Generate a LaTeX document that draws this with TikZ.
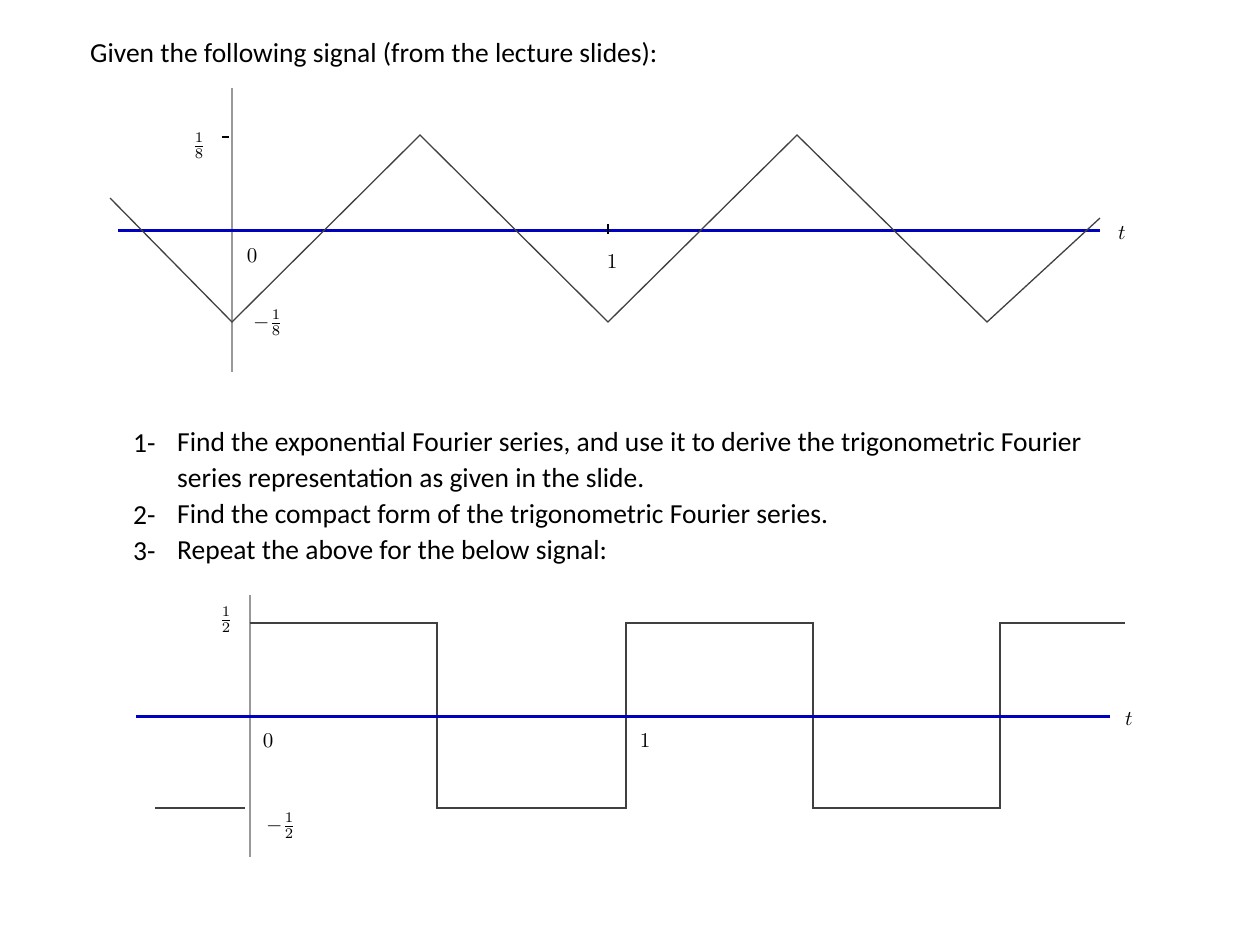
\documentclass[tikz,border=0pt]{standalone}
\usepackage{fontspec}
\newfontfamily\carlitofont{Carlito}
\begin{document}
\begin{tikzpicture}[x=1pt,y=-1pt,
  ax/.style={draw=gray!80,line width=2pt},
  sig/.style={draw=black!75,line width=1.3pt},
  blu/.style={draw=blue!75!black,line width=3pt},
  lab/.style={scale=2.1},
  txt/.style={font=\carlitofont\fontsize{27.5}{32}\selectfont,anchor=west,inner sep=0}]
\useasboundingbox (0,0) rectangle (1248,924);
\node[txt] (title) at (90,55) {Given the following signal (from the lecture slides):};
% top plot
\draw[ax] (232,88) -- (232,372);
\draw[blu] (118,230) -- (1100,230);
\draw[sig] (110,198) -- (232,322) -- (420,135) -- (608,322) -- (797,135) -- (987,322) -- (1100,218);
\draw[line width=2.5pt] (222,137) -- (229,137);
\draw[line width=2pt] (608,224) -- (608,234);
\node[lab] (a0) at (252,256) {$0$};
\node[lab] (a1) at (612,262) {$1$};
\node[lab] (at) at (1122,233) {$t$};
\node[lab] (ah) at (199,146) {$\frac{1}{8}$};
\node[lab] (al) at (268,323) {$-\frac{1}{8}$};
% text
\node[txt] (q1) at (133,444) {1-};
\node[txt] (q1t) at (177,444) {Find the exponential Fourier series, and use it to derive the trigonometric Fourier};
\node[txt] (q1u) at (177,480) {series representation as given in the slide.};
\node[txt] (q2) at (133,516) {2-};
\node[txt] (q2t) at (177,516) {Find the compact form of the trigonometric Fourier series.};
\node[txt] (q3) at (133,552) {3-};
\node[txt] (q3t) at (177,552) {Repeat the above for the below signal:};
% bottom plot
\draw[ax] (250,595) -- (250,857);
\draw[sig] (155,808) -- (245,808);
\draw[sig] (250,623) -- (437,623) -- (437,808) -- (626,808) -- (626,623) -- (813,623) -- (813,808) -- (1000,808) -- (1000,623) -- (1125,623);
\draw[blu] (136,716) -- (1110,716);
\node[lab] (b0) at (268,741) {$0$};
\node[lab] (b1) at (645,741) {$1$};
\node[lab] (bt) at (1129,719) {$t$};
\node[lab] (bh) at (226,620) {$\frac{1}{2}$};
\node[lab] (bl) at (281,826) {$-\frac{1}{2}$};
\end{tikzpicture}
\end{document}
